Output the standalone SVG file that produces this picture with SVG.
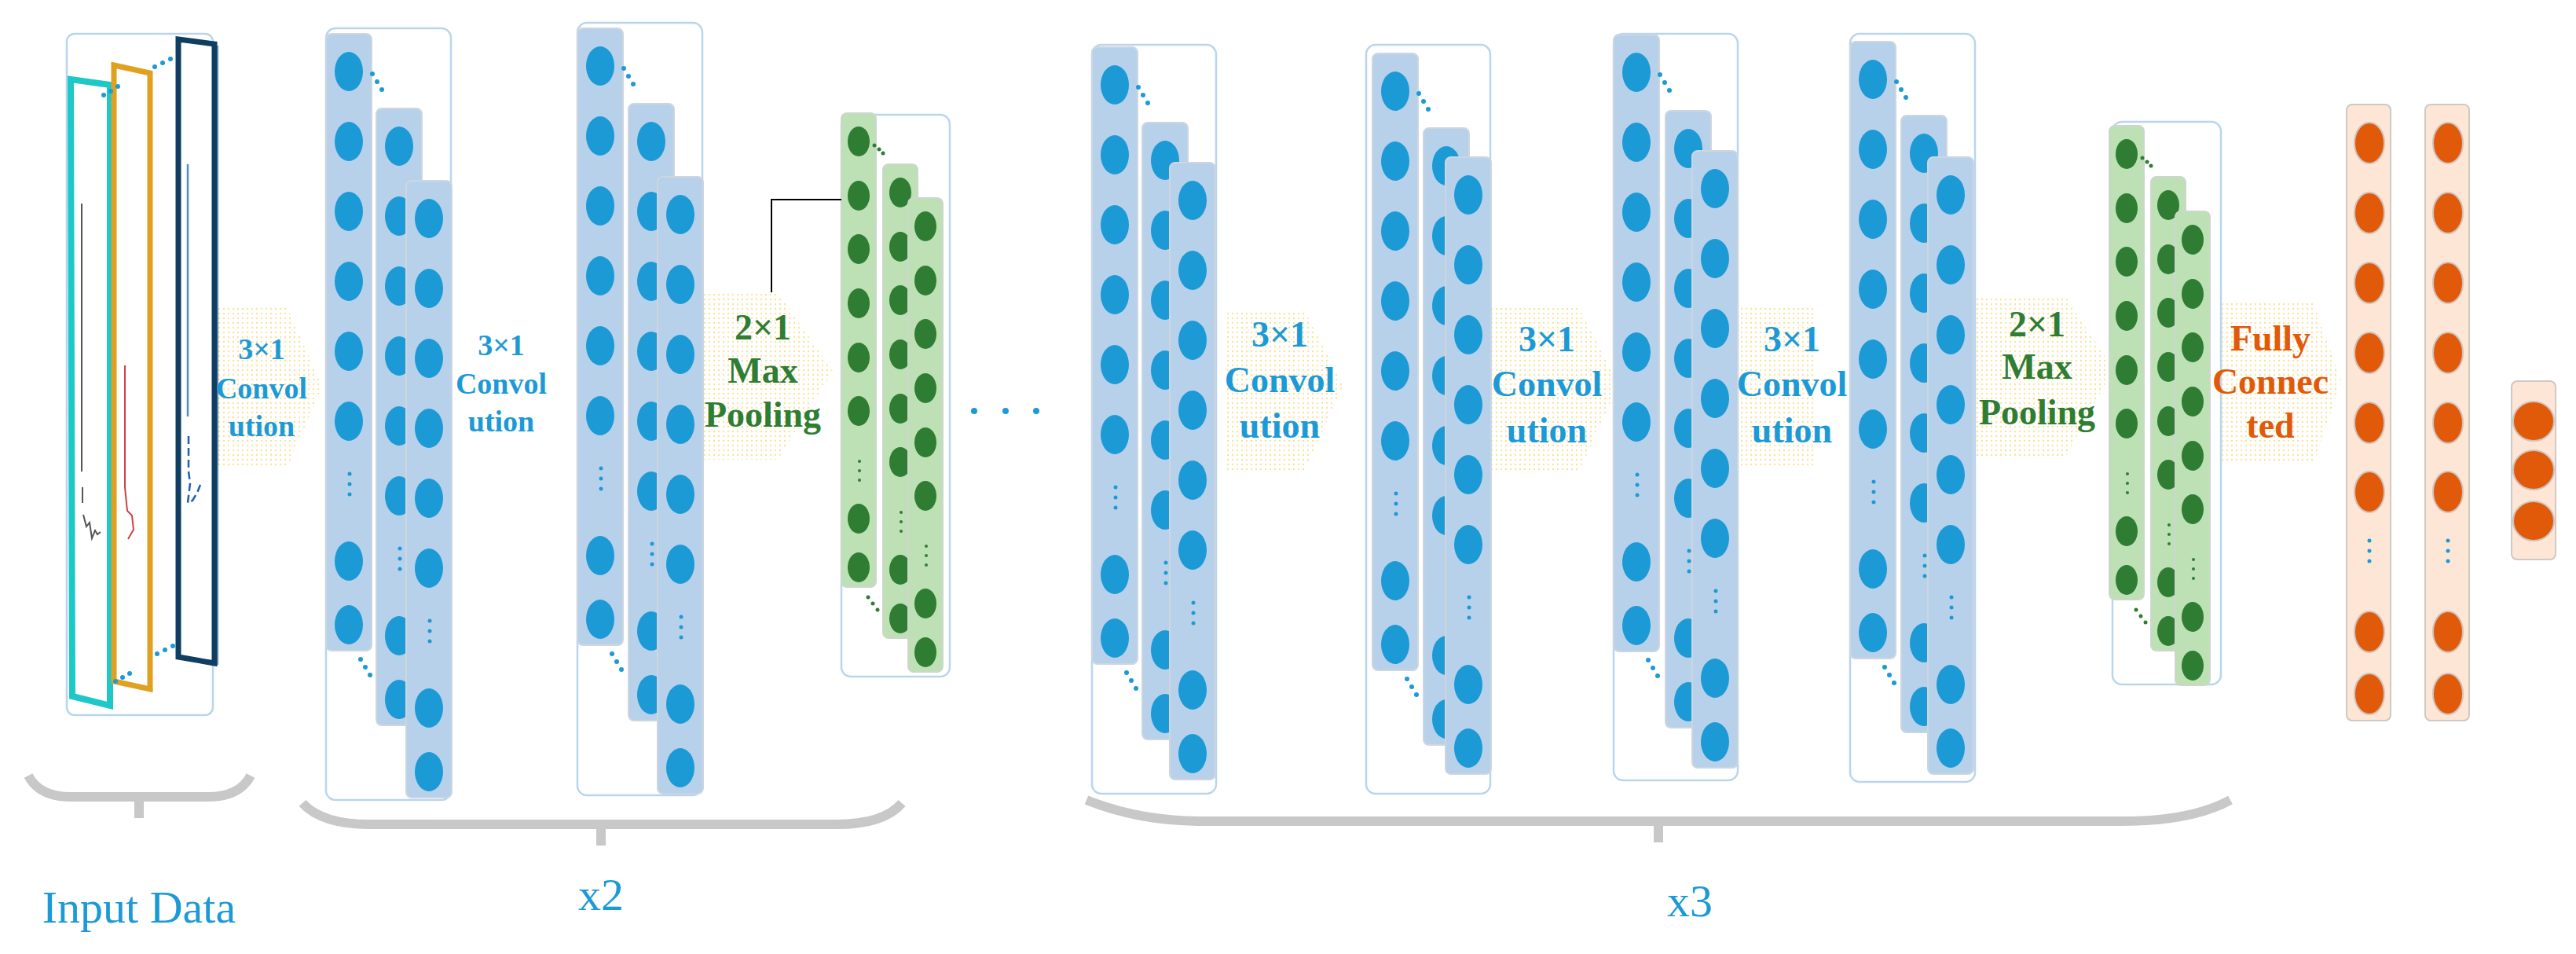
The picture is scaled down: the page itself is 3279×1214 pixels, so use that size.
<svg xmlns="http://www.w3.org/2000/svg" xmlns:xlink="http://www.w3.org/1999/xlink" width="3279" height="1214" viewBox="0 0 3279 1214">
<style>
.box{fill:none;stroke:#b9d5ee;stroke-width:2.5}
.bc{fill:#b8d1ea;stroke:#cdd6df;stroke-width:2}
.gc{fill:#bde0b5;stroke:#cdd6cd;stroke-width:2}
.oc{fill:#fde6d6;stroke:#cfc8c4;stroke-width:2}
.bd{fill:#1c9ad6}
.gd{fill:#2e7d32}
.od{fill:#e05a0a;stroke:#cfc3bd;stroke-width:2}
.lb{font-family:"Liberation Serif",serif;font-weight:bold;text-anchor:middle}
.blue{fill:#1c9ad6}.green{fill:#2e7d32}.orange{fill:#e05a0a}
.br{fill:none;stroke:#c8c8c8;stroke-width:12}
.cap{font-family:"Liberation Serif",serif;font-size:58px;fill:#1c9ad6;text-anchor:middle}
.halo{fill:url(#dots)}
</style>
<defs>
<pattern id="dots" width="6" height="6" patternUnits="userSpaceOnUse"><circle cx="3" cy="3" r="1.2" fill="#fbe39a"/></pattern>
<g id="bcol"><rect class="bc" x="0" y="0" width="58" height="785" rx="7"/>
<ellipse class="bd" cx="29" cy="48" rx="18" ry="25"/><ellipse class="bd" cx="29" cy="137" rx="18" ry="25"/><ellipse class="bd" cx="29" cy="226" rx="18" ry="25"/><ellipse class="bd" cx="29" cy="315" rx="18" ry="25"/><ellipse class="bd" cx="29" cy="404" rx="18" ry="25"/><ellipse class="bd" cx="29" cy="493" rx="18" ry="25"/>
<circle class="bd" cx="30" cy="560" r="2.5"/><circle class="bd" cx="30" cy="573" r="2.5"/><circle class="bd" cx="30" cy="586" r="2.5"/>
<ellipse class="bd" cx="29" cy="671" rx="18" ry="25"/><ellipse class="bd" cx="29" cy="752" rx="18" ry="25"/></g>
<g id="gcol"><rect class="gc" x="0" y="0" width="44" height="603" rx="7"/>
<ellipse class="gd" cx="22" cy="36" rx="14" ry="19"/><ellipse class="gd" cx="22" cy="105" rx="14" ry="19"/><ellipse class="gd" cx="22" cy="173" rx="14" ry="19"/><ellipse class="gd" cx="22" cy="242" rx="14" ry="19"/><ellipse class="gd" cx="22" cy="311" rx="14" ry="19"/><ellipse class="gd" cx="22" cy="379" rx="14" ry="19"/>
<circle class="gd" cx="23" cy="443" r="2"/><circle class="gd" cx="23" cy="455" r="2"/><circle class="gd" cx="23" cy="467" r="2"/>
<ellipse class="gd" cx="22" cy="516" rx="14" ry="19"/><ellipse class="gd" cx="22" cy="578" rx="14" ry="19"/></g>
<g id="ocol"><rect class="oc" x="0" y="0" width="56" height="784" rx="7"/>
<ellipse class="od" cx="29" cy="49" rx="19" ry="26"/><ellipse class="od" cx="29" cy="138" rx="19" ry="26"/><ellipse class="od" cx="29" cy="227" rx="19" ry="26"/><ellipse class="od" cx="29" cy="316" rx="19" ry="26"/><ellipse class="od" cx="29" cy="405" rx="19" ry="26"/><ellipse class="od" cx="29" cy="493" rx="19" ry="26"/>
<circle class="bd" cx="29" cy="555" r="2.5"/><circle class="bd" cx="29" cy="568" r="2.5"/><circle class="bd" cx="29" cy="581" r="2.5"/>
<ellipse class="od" cx="29" cy="671" rx="19" ry="26"/><ellipse class="od" cx="29" cy="750" rx="19" ry="26"/></g>
<g id="bdiag"><circle class="bd" cx="59" cy="51" r="3"/><circle class="bd" cx="65" cy="61" r="3"/><circle class="bd" cx="71" cy="71" r="3"/>
<circle class="bd" cx="44" cy="796" r="3"/><circle class="bd" cx="50" cy="806" r="3"/><circle class="bd" cx="56" cy="816" r="3"/></g>
<g id="gdiag"><circle class="gd" cx="42" cy="41" r="2.5"/><circle class="gd" cx="48" cy="46" r="2.5"/><circle class="gd" cx="53" cy="51" r="2.5"/>
<circle class="gd" cx="34" cy="616" r="2.5"/><circle class="gd" cx="40" cy="624" r="2.5"/><circle class="gd" cx="46" cy="632" r="2.5"/></g>
</defs>
<rect width="3279" height="1214" fill="#fff"/>

<g id="halos">
<polygon class="halo" points="275,390 365,390 410,492 365,596 275,596"/>
<polygon class="halo" points="880,372 990,372 1060,472 990,585 880,585"/>
<polygon class="halo" points="1560,395 1660,395 1710,490 1660,600 1560,600"/>
<polygon class="halo" points="1898,392 2010,392 2060,490 2010,600 1898,600"/>
<polygon class="halo" points="2214,390 2310,390 2310,595 2214,595"/>
<polygon class="halo" points="2514,378 2630,378 2690,470 2630,580 2514,580"/>
<polygon class="halo" points="2827,385 2945,385 2980,485 2945,590 2827,590"/>
</g>

<g id="input">
<rect class="box" x="85" y="43" width="186" height="867" rx="10"/>
<polygon points="90,101 140,108 140,898 92,886" fill="none" stroke="#1ec8c8" stroke-width="8"/>
<polygon points="145,83 191,93 191,877 145,867" fill="none" stroke="#e0a020" stroke-width="7"/>
<polygon points="227,50 273,56 273,844 227,836" fill="none" stroke="#0f3e62" stroke-width="7"/>
<line x1="277" y1="58" x2="277" y2="846" stroke="#4f7fa8" stroke-width="2"/>
<path d="M104,259 V600 M105,620 V640 M106,655 l4,15 l4,-5 l3,20 l4,-10 l3,5 l4,-3" fill="none" stroke="#555" stroke-width="2"/>
<path d="M159,465 V620 l3,30 l6,6 l2,18 l-3,5 l-4,7" fill="none" stroke="#d04040" stroke-width="2"/>
<path d="M239,209 V530" fill="none" stroke="#4f8fcf" stroke-width="2.5"/>
<path d="M240,555 V600 l2,15 l-3,25 l6,-3 l6,-10 l4,-10" fill="none" stroke="#1c5fb0" stroke-width="2.5" stroke-dasharray="10,5"/>
<circle class="bd" cx="132" cy="121" r="3"/><circle class="bd" cx="141" cy="116" r="3"/><circle class="bd" cx="150" cy="110" r="3"/>
<circle class="bd" cx="197" cy="85" r="3"/><circle class="bd" cx="207" cy="80" r="3"/><circle class="bd" cx="217" cy="75" r="3"/>
<circle class="bd" cx="147" cy="867" r="3"/><circle class="bd" cx="156" cy="862" r="3"/><circle class="bd" cx="165" cy="857" r="3"/>
<circle class="bd" cx="200" cy="832" r="3"/><circle class="bd" cx="210" cy="827" r="3"/><circle class="bd" cx="220" cy="822" r="3"/>
</g>

<g id="conv1">
<rect class="box" x="415" y="36" width="159" height="982" rx="12"/>
<use href="#bcol" x="415" y="43"/><use href="#bcol" x="479" y="138"/><use href="#bcol" x="517" y="230"/><use href="#bdiag" x="415" y="43"/>
</g>
<g id="conv2">
<rect class="box" x="735" y="29" width="159" height="983" rx="12"/>
<use href="#bcol" x="735" y="36"/><use href="#bcol" x="800" y="132"/><use href="#bcol" x="837" y="225"/><use href="#bdiag" x="735" y="36"/>
</g>
<g id="pool1">
<rect class="box" x="1071" y="146" width="138" height="715" rx="12"/>
<use href="#gcol" x="1071" y="144"/><use href="#gcol" x="1124" y="209"/><use href="#gcol" x="1156" y="252"/><use href="#gdiag" x="1071" y="144"/>
</g>
<g id="ellipsis"><circle class="bd" cx="1240" cy="523" r="4"/><circle class="bd" cx="1280" cy="523" r="4"/><circle class="bd" cx="1319" cy="523" r="4"/></g>
<g id="conv3">
<rect class="box" x="1390" y="57" width="158" height="953" rx="12"/>
<use href="#bcol" x="1390" y="60"/><use href="#bcol" x="1454" y="156"/><use href="#bcol" x="1489" y="207"/><use href="#bdiag" x="1390" y="60"/>
</g>
<g id="conv4">
<rect class="box" x="1739" y="57" width="158" height="953" rx="12"/>
<use href="#bcol" x="1747" y="68"/><use href="#bcol" x="1812" y="163"/><use href="#bcol" x="1840" y="200"/><use href="#bdiag" x="1747" y="68"/>
</g>
<g id="conv5">
<rect class="box" x="2054" y="43" width="158" height="950" rx="12"/>
<use href="#bcol" x="2054" y="44"/><use href="#bcol" x="2120" y="141"/><use href="#bcol" x="2154" y="192"/><use href="#bdiag" x="2054" y="44"/>
</g>
<g id="conv6">
<rect class="box" x="2355" y="43" width="159" height="952" rx="12"/>
<use href="#bcol" x="2355" y="53"/><use href="#bcol" x="2420" y="147"/><use href="#bcol" x="2454" y="200"/><use href="#bdiag" x="2355" y="53"/>
</g>
<g id="pool2">
<rect class="box" x="2689" y="155" width="138" height="716" rx="12"/>
<use href="#gcol" x="2685" y="160"/><use href="#gcol" x="2738" y="225"/><use href="#gcol" x="2769" y="269"/><use href="#gdiag" x="2685" y="160"/>
</g>
<g id="fc1"><use href="#ocol" x="2987" y="133"/></g>
<g id="fc2"><use href="#ocol" x="3087" y="133"/></g>
<g id="output">
<rect class="oc" x="3197" y="485" width="56" height="227" rx="7"/>
<ellipse class="od" cx="3225" cy="536" rx="26" ry="25"/><ellipse class="od" cx="3225" cy="598" rx="26" ry="25"/><ellipse class="od" cx="3225" cy="663" rx="26" ry="25"/>
</g>

<g id="connectors">
<polyline points="982,372 982,254 1071,254" fill="none" stroke="#000" stroke-width="2"/>
</g>

<g id="labels">
<text class="lb blue" font-size="38"><tspan x="333" y="457">3×1</tspan><tspan x="333" y="507">Convol</tspan><tspan x="333" y="555">ution</tspan></text>
<text class="lb blue" font-size="38"><tspan x="638" y="452">3×1</tspan><tspan x="638" y="501">Convol</tspan><tspan x="638" y="549">ution</tspan></text>
<text class="lb green" font-size="46"><tspan x="971" y="432">2×1</tspan><tspan x="971" y="487">Max</tspan><tspan x="971" y="543">Pooling</tspan></text>
<text class="lb blue" font-size="46"><tspan x="1629" y="441">3×1</tspan><tspan x="1629" y="499">Convol</tspan><tspan x="1629" y="557">ution</tspan></text>
<text class="lb blue" font-size="46"><tspan x="1969" y="447">3×1</tspan><tspan x="1969" y="504">Convol</tspan><tspan x="1969" y="563">ution</tspan></text>
<text class="lb blue" font-size="46"><tspan x="2281" y="447">3×1</tspan><tspan x="2281" y="504">Convol</tspan><tspan x="2281" y="563">ution</tspan></text>
<text class="lb green" font-size="46"><tspan x="2593" y="428">2×1</tspan><tspan x="2593" y="482">Max</tspan><tspan x="2593" y="540">Pooling</tspan></text>
<text class="lb orange" font-size="46"><tspan x="2890" y="446">Fully</tspan><tspan x="2890" y="501">Connec</tspan><tspan x="2890" y="557">ted</tspan></text>
</g>

<g id="brackets">
<path class="br" d="M36,987 Q50,1014 90,1014 H265 Q305,1014 319,987"/>
<line x1="177" y1="1018" x2="177" y2="1041" stroke="#c8c8c8" stroke-width="12"/>
<path class="br" d="M385,1022 Q410,1049 470,1049 H1065 Q1125,1049 1148,1022"/>
<line x1="765" y1="1052" x2="765" y2="1076" stroke="#c8c8c8" stroke-width="12"/>
<path class="br" d="M1383,1018 Q1450,1045 1530,1045 H2700 Q2790,1045 2839,1018"/>
<line x1="2111" y1="1048" x2="2111" y2="1072" stroke="#c8c8c8" stroke-width="12"/>
<text class="cap" x="177" y="1174">Input Data</text>
<text class="cap" x="765" y="1158">x2</text>
<text class="cap" x="2151" y="1166">x3</text>
</g>
</svg>
